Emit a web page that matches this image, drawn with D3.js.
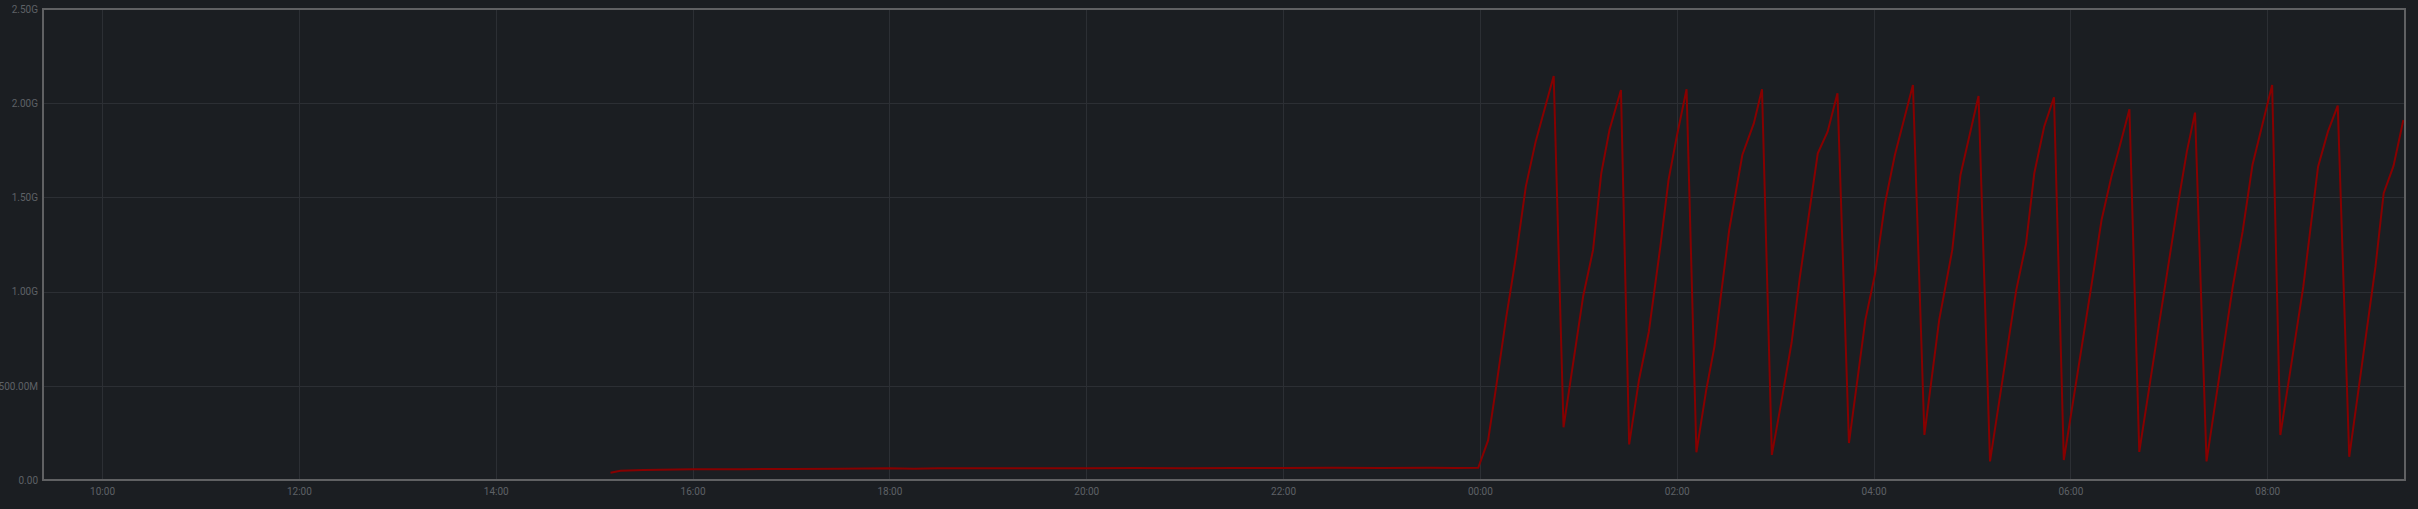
<!DOCTYPE html>
<html>
<head>
<meta charset="utf-8">
<script src="https://cdn.jsdelivr.net/npm/d3@7"></script>
<style>
  html, body { margin: 0; padding: 0; background: #1b1e22; }
  svg { display: block; }
  text { font-family: Roboto, "Open Sans", sans-serif; }
</style>
</head>
<body>
<svg id="chart" width="2418" height="509"></svg>
<script>
// ---- data (values in G bytes) ----
const domainStart = "2024-01-01 09:24";
const domainEnd = "2024-01-02 09:24";
const yTicks = [0, 0.5, 1.0, 1.5, 2.0, 2.5];
const xTickEveryHours = 2;

const times = [
  "2024-01-01 15:10","2024-01-01 15:16","2024-01-01 15:30","2024-01-01 16:00","2024-01-01 16:30",
  "2024-01-01 17:00","2024-01-01 17:30","2024-01-01 18:00","2024-01-01 18:15","2024-01-01 18:30",
  "2024-01-01 19:00","2024-01-01 19:30","2024-01-01 20:00","2024-01-01 20:30","2024-01-01 21:00",
  "2024-01-01 21:30","2024-01-01 22:00","2024-01-01 22:30","2024-01-01 23:00","2024-01-01 23:30",
  "2024-01-01 23:45","2024-01-01 23:59",
  "2024-01-02 00:05","2024-01-02 00:10","2024-01-02 00:16","2024-01-02 00:22","2024-01-02 00:28",
  "2024-01-02 00:34","2024-01-02 00:45","2024-01-02 00:51",
  "2024-01-02 01:03","2024-01-02 01:09","2024-01-02 01:14","2024-01-02 01:19","2024-01-02 01:26","2024-01-02 01:31",
  "2024-01-02 01:37","2024-01-02 01:43","2024-01-02 01:50","2024-01-02 01:55","2024-01-02 02:00","2024-01-02 02:06","2024-01-02 02:12",
  "2024-01-02 02:18","2024-01-02 02:23","2024-01-02 02:32","2024-01-02 02:40","2024-01-02 02:47","2024-01-02 02:52","2024-01-02 02:58",
  "2024-01-02 03:04","2024-01-02 03:10","2024-01-02 03:15","2024-01-02 03:26","2024-01-02 03:32","2024-01-02 03:38","2024-01-02 03:45",
  "2024-01-02 03:55","2024-01-02 04:01","2024-01-02 04:07","2024-01-02 04:13","2024-01-02 04:24","2024-01-02 04:31",
  "2024-01-02 04:40","2024-01-02 04:48","2024-01-02 04:53","2024-01-02 05:04","2024-01-02 05:11",
  "2024-01-02 05:27","2024-01-02 05:33","2024-01-02 05:38","2024-01-02 05:44","2024-01-02 05:50","2024-01-02 05:56",
  "2024-01-02 06:14","2024-01-02 06:19","2024-01-02 06:25","2024-01-02 06:30","2024-01-02 06:36","2024-01-02 06:42",
  "2024-01-02 06:54","2024-01-02 07:05","2024-01-02 07:11","2024-01-02 07:16","2024-01-02 07:23",
  "2024-01-02 07:39","2024-01-02 07:45","2024-01-02 07:51","2024-01-02 08:03","2024-01-02 08:08",
  "2024-01-02 08:22","2024-01-02 08:31","2024-01-02 08:37","2024-01-02 08:43","2024-01-02 08:50",
  "2024-01-02 09:06","2024-01-02 09:11","2024-01-02 09:17","2024-01-02 09:23"
];
const memoryG = [
  0.039,0.049,0.053,0.057,0.057,
  0.059,0.060,0.062,0.060,0.062,
  0.062,0.063,0.063,0.064,0.063,
  0.064,0.064,0.065,0.064,0.065,
  0.064,0.065,
  0.21,0.50,0.86,1.185,1.557,
  1.796,2.144,0.280,
  0.977,1.221,1.628,1.858,2.070,0.189,
  0.531,0.787,1.238,1.592,1.822,2.074,0.147,
  0.478,0.708,1.327,1.725,1.893,2.074,0.133,
  0.425,0.727,1.071,1.734,1.849,2.053,0.196,
  0.849,1.097,1.469,1.725,2.097,0.239,
  0.849,1.221,1.619,2.038,0.099,
  1.008,1.256,1.628,1.875,2.031,0.106,
  1.097,1.380,1.610,1.769,1.968,0.149,
  0.823,1.433,1.743,1.950,0.099,
  1.026,1.318,1.672,2.097,0.239,
  1.026,1.663,1.849,1.987,0.123,
  1.132,1.522,1.667,1.911
];

// ---- chart ----
const W = 2418, H = 509;
const margin = { top: 9, right: 13, bottom: 29, left: 43 };
const parse = d3.timeParse("%Y-%m-%d %H:%M");
const data = times.map((t, i) => ({ t: parse(t), v: memoryG[i] }));

const svg = d3.select("#chart");
svg.append("rect").attr("width", W).attr("height", H).attr("fill", "#1b1e22");

const x = d3.scaleTime()
  .domain([parse(domainStart), parse(domainEnd)])
  .range([margin.left, W - margin.right]);
const y = d3.scaleLinear()
  .domain([0, 2.5])
  .range([H - margin.bottom, margin.top]);

const fmtY = v => v === 0 ? "0.00" : (v < 1 ? (v * 1000).toFixed(2) + "M" : v.toFixed(2) + "G");
const xTicks = x.ticks(d3.timeHour.every(xTickEveryHours));

// grid
const grid = svg.append("g").attr("stroke", "#2c2f34").attr("stroke-width", 1);
grid.selectAll("line.v").data(xTicks).join("line")
  .attr("x1", d => Math.round(x(d)) + 0.5).attr("x2", d => Math.round(x(d)) + 0.5)
  .attr("y1", margin.top).attr("y2", H - margin.bottom);
grid.selectAll("line.h").data(yTicks).join("line")
  .attr("x1", margin.left).attr("x2", W - margin.right)
  .attr("y1", d => Math.round(y(d)) + 0.5).attr("y2", d => Math.round(y(d)) + 0.5);

// y axis
const yAxis = d3.axisLeft(y).tickValues(yTicks).tickFormat(fmtY).tickSize(0).tickPadding(5);
const gy = svg.append("g").attr("transform", `translate(${margin.left},0)`).call(yAxis);
gy.select(".domain").remove();
gy.selectAll("text").attr("fill", "#5e6166").attr("font-size", 10)
  .attr("font-family", "Roboto, 'Open Sans', sans-serif");

// x axis
const xAxis = d3.axisBottom(x).tickValues(xTicks).tickFormat(d3.timeFormat("%H:%M")).tickSize(0).tickPadding(8);
const gx = svg.append("g").attr("transform", `translate(0,${H - margin.bottom})`).call(xAxis);
gx.select(".domain").remove();
gx.selectAll("text").attr("fill", "#5e6166").attr("font-size", 10)
  .attr("font-family", "Roboto, 'Open Sans', sans-serif");

// line
const line = d3.line().x(d => x(d.t)).y(d => y(d.v));
svg.append("path").datum(data)
  .attr("fill", "none").attr("stroke", "#870000").attr("stroke-width", 2)
  .attr("stroke-linejoin", "miter").attr("d", line);

// frame
svg.append("rect")
  .attr("x", margin.left).attr("y", margin.top)
  .attr("width", W - margin.left - margin.right)
  .attr("height", H - margin.top - margin.bottom)
  .attr("fill", "none").attr("stroke", "#606163").attr("stroke-width", 2);
</script>
</body>
</html>
